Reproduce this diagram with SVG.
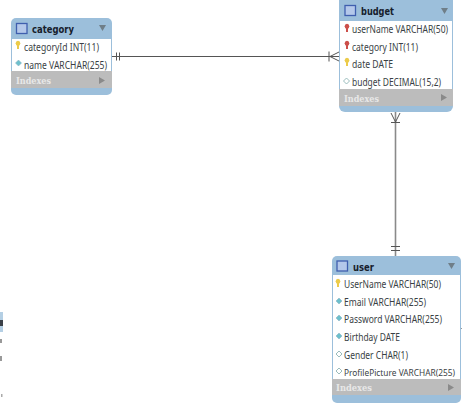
<svg xmlns="http://www.w3.org/2000/svg" width="474" height="412" viewBox="0 0 474 412">
<style>
.t{font-family:"Noto Sans",sans-serif;font-size:10px;fill:#3a3f45}
.h{font-family:"DejaVu Sans",sans-serif;font-size:11px;font-weight:bold;fill:#16202c}
.i{font-family:"DejaVu Serif",serif;font-size:9px;font-weight:bold;fill:#e8e8e8}
.blue{fill:#9cbfdb}.white{fill:#fff}.gray{fill:#bcbcbc}
.ic{fill:#b4c8ea;stroke:#3f5fae;stroke-width:1.3}
.tri{fill:#6f7e88}.tri2{fill:#8a8a8a}
.c{fill:none;stroke:#555;stroke-width:1}
.c2{fill:none;stroke:#8a8a8a;stroke-width:1.6}
.y{fill:#eccb4a}.r{fill:#cc4f4a}.d{fill:#6cc0cc;stroke:#8fb4c4;stroke-width:.6}.o{fill:#fff;stroke:#8fb4b4;stroke-width:.9}
</style>
<defs>
<g id="key"><ellipse cx="0" cy="-1.8" rx="2.300" ry="2.500"/><rect x="-1" y="-1" width="2" height="5"/></g>
</defs>
<rect width="474" height="412" fill="#fff"/>
<g id="connectors">
<path class="c" d="M112 56.500H339"/>
<path class="c" d="M116.500 52.500V60.500M119.500 52.500V60.500M329 51.500V61.500M339 52L330 56.500L339 61"/>
<path class="c2" d="M395.500 112V256"/>
<path class="c" d="M391 122.500H400M391 113L395.500 122L400 113M391 246.500H400M391 250.500H400"/>
</g>
<g id="category">
<rect class="blue" x="11" y="18" width="101" height="77" rx="5"/>
<rect class="white" x="12" y="39" width="99" height="32"/>
<rect class="gray" x="11" y="71" width="101" height="17"/>
<rect class="ic" x="16.500" y="23.500" width="10.500" height="10"/>
<text class="h" x="32" y="33" textLength="42" lengthAdjust="spacingAndGlyphs">category</text>
<path class="tri" d="M99 25H106L102.500 31Z"/>
<use href="#key" class="y" x="18" y="45"/>
<text class="t" x="24" y="51" textLength="75" lengthAdjust="spacingAndGlyphs">categoryId INT(11)</text>
<path class="d" d="M18.500 60L21.500 63L18.500 66L15.500 63Z"/>
<text class="t" x="24" y="69" textLength="83" lengthAdjust="spacingAndGlyphs">name VARCHAR(255)</text>
<text class="i" x="16" y="84" textLength="35" lengthAdjust="spacingAndGlyphs">Indexes</text>
<path class="tri2" d="M99 77L105 80.500L99 84Z"/>
</g>
<g id="budget">
<rect class="blue" x="339" y="-6" width="114" height="118" rx="6"/>
<rect class="white" x="340" y="21" width="112" height="68"/>
<rect class="gray" x="339" y="89" width="114" height="17"/>
<rect class="ic" x="345" y="5.500" width="10.500" height="10"/>
<text class="h" x="361" y="15" textLength="33" lengthAdjust="spacingAndGlyphs">budget</text>
<path class="tri" d="M441 8H448L444.500 14Z"/>
<use href="#key" class="r" x="347" y="28"/>
<text class="t" x="352" y="33" textLength="96" lengthAdjust="spacingAndGlyphs">userName VARCHAR(50)</text>
<use href="#key" class="r" x="347" y="45"/>
<text class="t" x="352" y="51" textLength="66" lengthAdjust="spacingAndGlyphs">category INT(11)</text>
<use href="#key" class="y" x="347" y="62"/>
<text class="t" x="352" y="68" textLength="41" lengthAdjust="spacingAndGlyphs">date DATE</text>
<path class="o" d="M346.500 78L349.500 81L346.500 84L343.500 81Z"/>
<text class="t" x="352" y="86" textLength="89" lengthAdjust="spacingAndGlyphs">budget DECIMAL(15,2)</text>
<text class="i" x="344" y="102" textLength="35" lengthAdjust="spacingAndGlyphs">Indexes</text>
<path class="tri2" d="M441 94L447 97.500L441 101Z"/>
</g>
<g id="user">
<rect class="blue" x="332" y="256" width="129" height="147" rx="5"/>
<rect class="white" x="333" y="275" width="127" height="104"/>
<rect class="gray" x="332" y="379" width="129" height="16"/>
<rect class="ic" x="337" y="261" width="10.500" height="10"/>
<text class="h" x="353" y="271" textLength="21" lengthAdjust="spacingAndGlyphs">user</text>
<path class="tri" d="M448 263H455L451.500 269Z"/>
<use href="#key" class="y" x="338" y="283"/>
<text class="t" x="344" y="288" textLength="97" lengthAdjust="spacingAndGlyphs">UserName VARCHAR(50)</text>
<path class="d" d="M339 298L342 301L339 304L336 301Z"/>
<text class="t" x="344" y="306" textLength="82" lengthAdjust="spacingAndGlyphs">Email VARCHAR(255)</text>
<path class="d" d="M339 315L342 318L339 321L336 318Z"/>
<text class="t" x="344" y="323" textLength="98" lengthAdjust="spacingAndGlyphs">Password VARCHAR(255)</text>
<path class="d" d="M339 333L342 336L339 339L336 336Z"/>
<text class="t" x="344" y="341" textLength="56" lengthAdjust="spacingAndGlyphs">Birthday DATE</text>
<path class="o" d="M339 351L342 354L339 357L336 354Z"/>
<text class="t" x="344" y="359" textLength="64" lengthAdjust="spacingAndGlyphs">Gender CHAR(1)</text>
<path class="o" d="M339 368L342 371L339 374L336 371Z"/>
<text class="t" x="344" y="375.500" textLength="111" lengthAdjust="spacingAndGlyphs" style="font-size:9.800px">ProfilePicture VARCHAR(255)</text>
<text class="i" x="336" y="391" textLength="36" lengthAdjust="spacingAndGlyphs">Indexes</text>
<path class="tri2" d="M448 384L454 387.500L448 391Z"/>
</g>
<rect x="0" y="312" width="3" height="20" fill="#b4cfe4"/>
<rect x="0" y="320" width="3" height="6" fill="#3a4048"/>
<rect x="0" y="339" width="2" height="4" fill="#999"/>
<rect x="0" y="356" width="2" height="5" fill="#999"/>
<rect x="1" y="394" width="1.500" height="3" fill="#aaa"/>
<rect x="461" y="328" width="1" height="1" fill="#999"/>
</svg>
